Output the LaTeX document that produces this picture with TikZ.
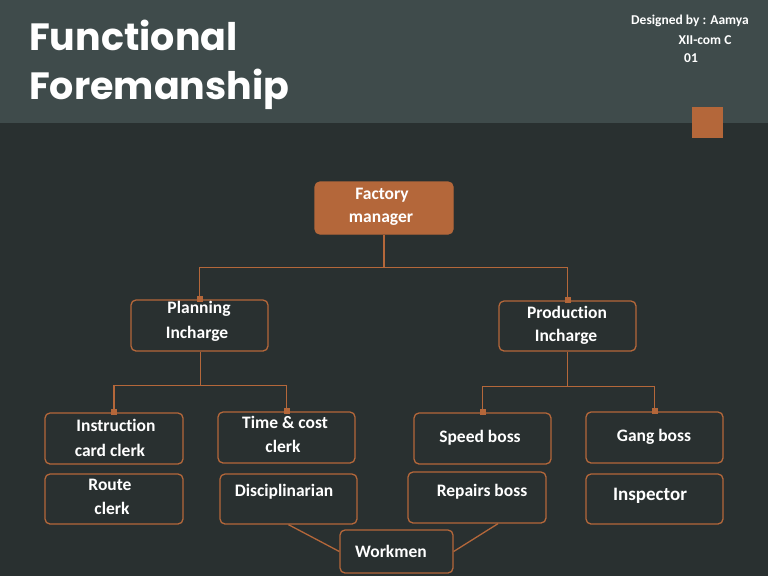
\documentclass[tikz,border=0pt]{standalone}
\usepackage{fontspec}
\setmainfont{Carlito}[Ligatures={NoCommon}]
\newfontfamily\titlefont{Poppins}
\definecolor{hdr}{HTML}{3F4B4B}
\definecolor{bgc}{HTML}{293030}
\definecolor{org}{HTML}{B4673A}
\begin{document}
\begin{tikzpicture}[x=1pt,y=-1pt,
  box/.style={draw=org,line width=1.3pt,rounded corners=5pt,inner sep=0pt},
  txt/.style={text=white,font=\bfseries\fontsize{17.5}{20}\selectfont,inner sep=0pt,anchor=center},
  conn/.style={draw=org,line width=1.3pt},
  sqmark/.style={fill=org,minimum size=6pt,inner sep=0pt}]
\useasboundingbox (0,0) rectangle (768,576);
\fill[bgc] (0,0) rectangle (768,576);
\fill[hdr] (0,0) rectangle (768,123);
\fill[org] (692,107) rectangle (723,138);
\node[text=white,font=\titlefont\bfseries\fontsize{38}{46}\selectfont,anchor=west,inner sep=0pt] (t1) at (29,35) {Functional};
\node[text=white,font=\titlefont\bfseries\fontsize{38}{46}\selectfont,anchor=west,inner sep=0pt] (t2) at (29,89) {Foremanship};
\node[txt,font=\bfseries\fontsize{13.5}{15}\selectfont] (d1) at (690,21) {Designed by : Aamya};
\node[txt,font=\bfseries\fontsize{13.5}{15}\selectfont] (d2) at (705,40) {XII-com C};
\node[txt,font=\bfseries\fontsize{13.5}{15}\selectfont] (d3) at (691,58) {01};
% boxes
\node[box,fill=org,minimum width=138pt,minimum height=52pt] (fm) at (384,208) {};
\node[box,minimum width=137pt,minimum height=51pt] (pl) at (199.5,325.5) {};
\node[box,minimum width=137pt,minimum height=50pt] (pr) at (567.5,326) {};
\node[box,minimum width=138pt,minimum height=51pt] (ic) at (114,438.5) {};
\node[box,minimum width=137pt,minimum height=51pt] (tc) at (286.5,437.5) {};
\node[box,minimum width=138pt,minimum height=50pt] (rc) at (114,499) {};
\node[box,minimum width=137pt,minimum height=50pt] (dc) at (288.5,499) {};
\node[box,minimum width=137pt,minimum height=51pt] (sb) at (482.5,438.5) {};
\node[box,minimum width=137pt,minimum height=51pt] (gb) at (654.5,437.5) {};
\node[box,minimum width=138pt,minimum height=51pt] (rb) at (477,497.5) {};
\node[box,minimum width=137pt,minimum height=50pt] (in) at (654.5,499) {};
\node[box,minimum width=113pt,minimum height=43pt] (wm) at (396.5,551.5) {};
% texts
\node[txt] (fm1) at (382,195) {Factory};
\node[txt] (fm2) at (381,220) {manager};
\node[txt] (pl1) at (199,309) {Planning};
\node[txt] (pl2) at (197,334) {Incharge};
\node[txt] (pr1) at (567,312) {Production};
\node[txt] (pr2) at (566,337) {Incharge};
\node[txt] (ic1) at (116,425) {Instruction};
\node[txt] (ic2) at (110,450) {card clerk};
\node[txt] (tc1) at (285,422) {Time \& cost};
\node[txt] (tc2) at (283,446) {clerk};
\node[txt] (rc1) at (110,485) {Route};
\node[txt] (rc2) at (112,508) {clerk};
\node[txt] (dc1) at (284,492) {Disciplinarian};
\node[txt] (sb1) at (480,438) {Speed boss};
\node[txt] (gb1) at (654,437) {Gang boss};
\node[txt] (rb1) at (482,492) {Repairs boss};
\node[txt,font=\bfseries\fontsize{19}{22}\selectfont] (in1) at (650,496) {Inspector};
\node[txt] (wm1) at (391,551) {Workmen};
% connectors
\draw[conn] (fm.south) -- ++(0,33) coordinate (j1) -| (pl.north);
\draw[conn] (j1) -| (pr.north);
\node[sqmark] (m1) at (pl.north) {};
\node[sqmark] (m2) at (pr.north) {};
\draw[conn] (pl.south) ++(1,0) coordinate (p0) -- ++(0,34) coordinate (j2) -| (ic.north);
\draw[conn] (j2) -| (tc.north);
\node[sqmark] (m3) at (ic.north) {};
\node[sqmark] (m4) at (tc.north) {};
\draw[conn] (pr.south) -- ++(0,35) coordinate (j3) -| (sb.north);
\draw[conn] (j3) -| (gb.north);
\node[sqmark] (m5) at (sb.north) {};
\node[sqmark] (m6) at (gb.north) {};
\draw[conn] (dc.south) -- (wm.west);
\draw[conn] (rb.south) ++(21,0) coordinate (r0) -- (wm.east);
\end{tikzpicture}
\end{document}
